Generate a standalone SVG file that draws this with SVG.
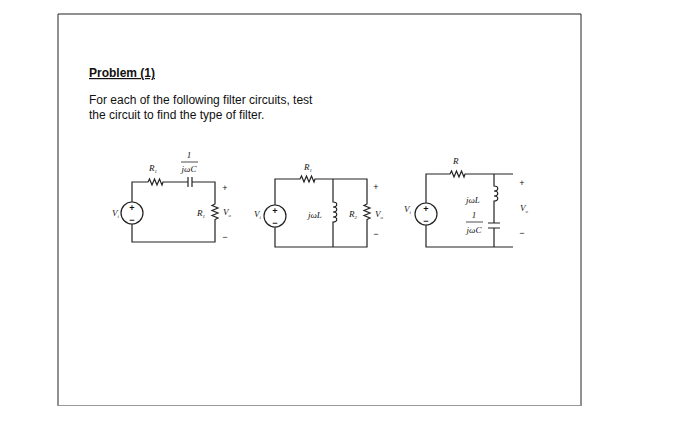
<svg xmlns="http://www.w3.org/2000/svg" width="674" height="438" viewBox="0 0 674 438">
<style>
.w{fill:none;stroke:#222;stroke-width:1.2}
.t{font-family:"Liberation Sans",Arial,sans-serif;font-size:12px;fill:#111}
.s{font-family:"Liberation Serif","Times New Roman",serif;font-style:italic;font-size:9px;fill:#111}
.p{font-family:"Liberation Sans",Arial,sans-serif;font-size:9px;fill:#111}
.q{font-family:"Liberation Sans",Arial,sans-serif;font-size:9px;font-weight:bold;fill:#111}
</style>
<rect width="674" height="438" fill="#fff"/>
<path d="M58,406 V14 H581 V406" fill="none" stroke="#222" stroke-width="1"/>
<line x1="58" y1="405.5" x2="581" y2="405.5" stroke="#999" stroke-width="1"/>
<text class="t" x="89" y="77" font-weight="bold" text-decoration="underline">Problem (1)</text>
<text class="t" x="89" y="104">For each of the following filter circuits, test</text>
<text class="t" x="89" y="119">the circuit to find the type of filter.</text>

<g id="circuit1">
<path class="w" d="M132,202 V182 H148 l1.5,-3 l2.5,6 l2.5,-6 l2.5,6 l2.5,-6 l2.5,6 l1,-3 H188 M192,182 H215 V204 l-3,1.5 l6,2.5 l-6,2.5 l6,2.5 l-6,2.5 l6,2.5 l-3,1.5 V242 H132 V224 M188,177 V187 M192,177 V187"/>
<circle class="w" cx="132" cy="213" r="11"/>
<text class="q" x="132" y="211" text-anchor="middle">+</text>
<text class="q" x="132" y="223" text-anchor="middle">−</text>
<text class="s" x="112" y="216">V<tspan font-size="5" dy="2">i</tspan></text>
<text class="s" x="149" y="171">R<tspan font-size="5" dy="2">1</tspan></text>
<text class="s" x="189" y="158" text-anchor="middle">1</text>
<line x1="181" y1="162" x2="198" y2="162" stroke="#222" stroke-width="0.8"/>
<text class="s" x="189" y="172" text-anchor="middle">jωC</text>
<text class="p" x="225" y="191" text-anchor="middle">+</text>
<text class="s" x="197" y="216">R<tspan font-size="5" dy="2">1</tspan></text>
<text class="s" x="223" y="215">V<tspan font-size="5" dy="2">o</tspan></text>
<text class="p" x="225" y="240" text-anchor="middle">−</text>
</g>

<g id="circuit2">
<path class="w" d="M275,205 V179 H300 l1.5,-3 l2.5,6 l2.5,-6 l2.5,6 l2.5,-6 l2.5,6 l1,-3 H367 V204 l-3,1.5 l6,2.5 l-6,2.5 l6,2.5 l-6,2.5 l6,2.5 l-3,1.5 V247 H275 V227 M333,179 V202 c5,0 5,5 0,5 c5,0 5,5 0,5 c5,0 5,5 0,5 c5,0 5,5 0,5 V247"/>
<circle class="w" cx="275" cy="216" r="11"/>
<text class="q" x="275" y="214" text-anchor="middle">+</text>
<text class="q" x="275" y="226" text-anchor="middle">−</text>
<text class="s" x="254" y="217">V<tspan font-size="5" dy="2">i</tspan></text>
<text class="s" x="304" y="170">R<tspan font-size="5" dy="2">1</tspan></text>
<text class="s" x="308" y="218">jωL</text>
<text class="s" x="349" y="217">R<tspan font-size="5" dy="2">2</tspan></text>
<text class="s" x="375" y="217">V<tspan font-size="5" dy="2">o</tspan></text>
<text class="p" x="376" y="190" text-anchor="middle">+</text>
<text class="p" x="376" y="237" text-anchor="middle">−</text>
</g>

<g id="circuit3">
<path class="w" d="M426,203 V174 H450 l1.5,-3 l2.5,6 l2.5,-6 l2.5,6 l2.5,-6 l2.5,6 l1,-3 H513 M494,174 V186 c5,0 5,5 0,5 c5,0 5,5 0,5 c5,0 5,5 0,5 V223 M494,228 V247 H426 V225 M513,247 H494 M488,223 H500 M488,228 H500"/>
<circle class="w" cx="426" cy="214" r="11"/>
<text class="q" x="426" y="212" text-anchor="middle">+</text>
<text class="q" x="426" y="224" text-anchor="middle">−</text>
<text class="s" x="404" y="212">V<tspan font-size="5" dy="2">i</tspan></text>
<text class="s" x="453" y="164">R</text>
<text class="s" x="466" y="203">jωL</text>
<text class="s" x="474" y="218" text-anchor="middle">1</text>
<line x1="466" y1="222" x2="483" y2="222" stroke="#222" stroke-width="0.8"/>
<text class="s" x="474" y="233" text-anchor="middle">jωC</text>
<text class="s" x="520" y="211">V<tspan font-size="5" dy="2">o</tspan></text>
<text class="p" x="522" y="186" text-anchor="middle">+</text>
<text class="p" x="522" y="236" text-anchor="middle">−</text>
</g>
</svg>
